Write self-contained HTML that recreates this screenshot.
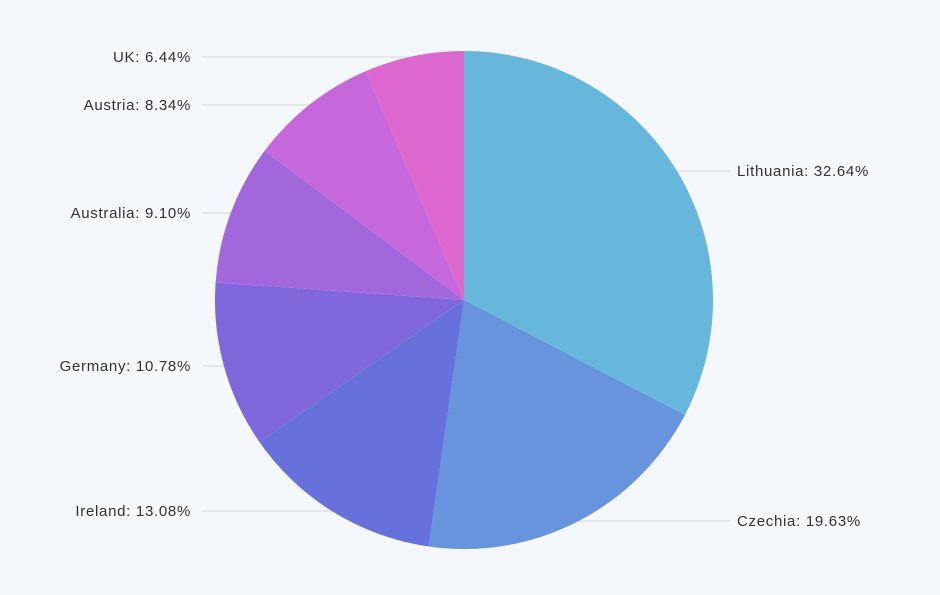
<!DOCTYPE html>
<html><head><meta charset="utf-8"><style>
html,body{margin:0;padding:0;background:#f4f7fb;}
svg{display:block;font-family:"Liberation Sans",sans-serif;}
</style></head><body>
<svg id="chart" width="940" height="595">
<rect width="940" height="595" fill="#f4f7fb"/>
<g id="lines"></g><g id="slices"></g><g id="labels"></g>
</svg>
<script>
const categories = ["Lithuania","Czechia","Ireland","Germany","Australia","Austria","UK"];
const shares = [32.64,19.63,13.08,10.78,9.10,8.34,6.44];
const colors = ["#67b7dc","#6794dc","#6771dc","#8067dc","#a367dc","#c767dc","#dc67ce"];
const labelY = [171,521,511,366,213,105,57];
const cx=464, cy=300, r=249;
const NS="http://www.w3.org/2000/svg";
const total = shares.reduce((a,b)=>a+b,0);
const gS=document.getElementById('slices'), gL=document.getElementById('lines'), gT=document.getElementById('labels');
let a0=0;
function pt(a){return [cx+r*Math.sin(a), cy-r*Math.cos(a)];}
shares.forEach((v,i)=>{
  const a1=a0+v/total*2*Math.PI;
  const p0=pt(a0), p1=pt(a1);
  const large=(a1-a0)>Math.PI?1:0;
  const path=document.createElementNS(NS,'path');
  path.setAttribute('d',`M${cx},${cy}L${p0[0]},${p0[1]}A${r},${r} 0 ${large} 1 ${p1[0]},${p1[1]}Z`);
  path.setAttribute('fill',colors[i]);
  
  
  gS.appendChild(path);
  const mid=(a0+a1)/2;
  const right=Math.sin(mid)>=0;
  const y=labelY[i];
  const line=document.createElementNS(NS,'line');
  line.setAttribute('x1', right?730:203);
  line.setAttribute('x2', cx);
  line.setAttribute('y1', y); line.setAttribute('y2', y);
  line.setAttribute('stroke','#d3d7de'); line.setAttribute('stroke-width','1');
  
  
  gL.appendChild(line);
  const t=document.createElementNS(NS,'text');
  t.setAttribute('x', right?737:191);
  t.setAttribute('y', y+5);
  t.setAttribute('text-anchor', right?'start':'end');
  t.setAttribute('font-size','15');
  t.setAttribute('letter-spacing','0.7');
  t.setAttribute('fill','#333');
  t.textContent=categories[i]+': '+shares[i].toFixed(2)+'%';
  
  
  gT.appendChild(t);
  a0=a1;
});
</script>
</body></html>
